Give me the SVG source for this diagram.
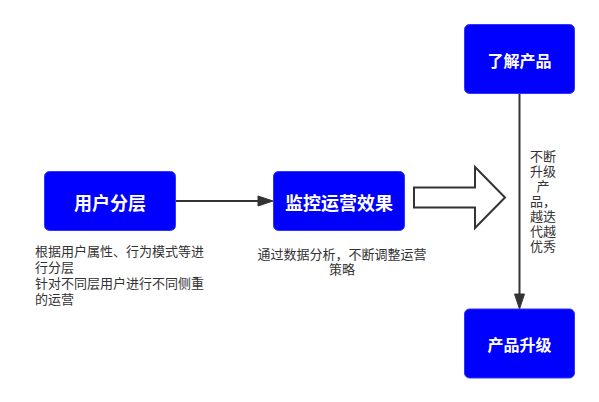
<svg xmlns="http://www.w3.org/2000/svg" width="599" height="402" viewBox="0 0 599 402">
<style>
.box{fill:#0000FF;stroke:#3333ff;stroke-width:1}
.bt{fill:#ffffff;font-family:"Noto Sans CJK SC","Noto Sans",sans-serif;font-weight:bold;text-anchor:middle;dominant-baseline:central}
.lt{fill:#333333;font-family:"Liberation Sans","Noto Sans CJK SC",sans-serif;font-size:13px}
.conn{stroke:#333333;stroke-width:2;fill:none}
.head{fill:#333333;stroke:#333333;stroke-width:1}
</style>
<rect width="599" height="402" fill="#ffffff"/>
<g id="connectors">
<line class="conn" x1="176" y1="201" x2="260" y2="201"/>
<polygon class="head" points="273,201 258,196 258,206"/>
<line class="conn" x1="519.5" y1="94" x2="519.5" y2="296"/>
<polygon class="head" points="519.5,309 514.5,294 524.5,294"/>
<polygon points="414,187.5 475,187.5 475,167 505,197.5 475,228 475,207.5 414,207.5" fill="#ffffff" stroke="#333333" stroke-width="2"/>
</g>
<g id="node-user-layer">
<rect class="box" x="44.5" y="171.5" width="131" height="59" rx="5"/>
<text class="bt" x="110" y="202" font-size="18">用户分层</text>
</g>
<g id="node-monitor">
<rect class="box" x="273.5" y="171.5" width="131" height="59" rx="5"/>
<text class="bt" x="339" y="202" font-size="18">监控运营效果</text>
</g>
<g id="node-know-product">
<rect class="box" x="464.5" y="24.5" width="110" height="69" rx="5"/>
<text class="bt" x="519.5" y="60" font-size="16">了解产品</text>
</g>
<g id="node-upgrade">
<rect class="box" x="464.5" y="309" width="110" height="69" rx="5"/>
<text class="bt" x="519.5" y="344" font-size="16">产品升级</text>
</g>
<g id="label-user-layer">
<text class="lt"><tspan x="35" y="256">根据用户属性、行为模式等进</tspan><tspan x="35" y="272">行分层</tspan><tspan x="35" y="288">针对不同层用户进行不同侧重</tspan><tspan x="35" y="304">的运营</tspan></text>
</g>
<g id="label-monitor">
<text class="lt" text-anchor="middle"><tspan x="342" y="259">通过数据分析，不断调整运营</tspan><tspan x="342" y="274">策略</tspan></text>
</g>
<g id="label-upgrade">
<text class="lt" text-anchor="middle"><tspan x="543" y="161">不断</tspan><tspan x="543" y="176">升级</tspan><tspan x="543" y="191">产</tspan><tspan x="543" y="206">品，</tspan><tspan x="543" y="221">越迭</tspan><tspan x="543" y="236">代越</tspan><tspan x="543" y="251">优秀</tspan></text>
</g>
</svg>
